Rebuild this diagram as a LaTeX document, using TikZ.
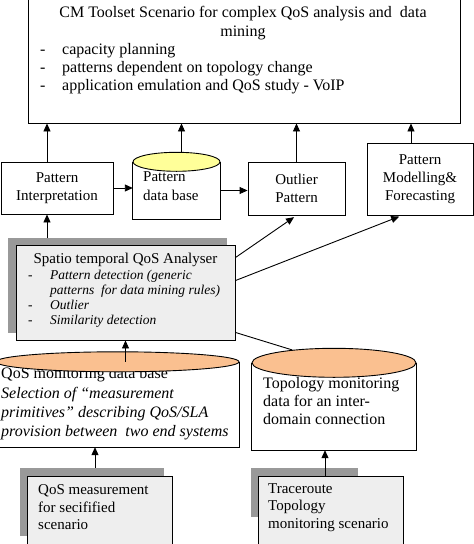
\documentclass[tikz,border=0pt]{standalone}
\usepackage{fontspec}
\setmainfont{Liberation Serif}
\usetikzlibrary{arrows.meta,positioning,shapes.geometric}
\definecolor{cmYellow}{HTML}{FFFF99}
\definecolor{cmPeach}{HTML}{FAC090}
\definecolor{cmPanel}{HTML}{EEEEEE}
\definecolor{cmPlate}{HTML}{999999}
\tikzset{
  unit/.style={draw, line width=0.9pt, inner sep=0pt, align=center},
  body/.style={inner sep=0pt},
  lid/.style={draw, ellipse, line width=0.9pt, inner sep=0pt},
  backplate/.style={fill=cmPlate},
  panel/.style={draw, fill=cmPanel, line width=0.9pt, inner sep=0pt},
  arr/.style={line width=0.9pt, -{Triangle[length=8pt,width=7pt]}},
  txt/.style={inner sep=0pt, align=left, anchor=west},
}

\begin{document}
\begin{tikzpicture}[x=1pt,y=-1pt,font=\fontsize{15}{18}\selectfont]
  \useasboundingbox (0,0) rectangle (474,544);

  % scenario on top
  \node[unit, minimum width=432pt, minimum height=128pt] (scen) at (244,59) {};
  \node[inner sep=0pt, align=center, font=\fontsize{16}{19}\selectfont] (scentitle) at (243,23.5)
    {CM Toolset Scenario for complex QoS analysis and~ data\\mining};
  \node[txt, font=\fontsize{16}{18}\selectfont] (scenitems) at (40,69) {\makebox[22pt][l]{-}capacity planning\\
    \makebox[22pt][l]{-}patterns dependent on topology change\\
    \makebox[22pt][l]{-}application emulation and QoS study - VoIP};

  % middle row
  \node[unit, minimum width=112pt, minimum height=52pt] (pi) at (57,188) {Pattern\\Interpretation};
  \node[body, minimum width=87pt, minimum height=57pt] (pdb) at (176.5,190.5) {};
  \draw[line width=0.9pt, fill=white] (pdb.north west) -- (pdb.south west) -- (pdb.south east) -- (pdb.north east);
  \node[lid, fill=cmYellow, minimum width=87pt, minimum height=19pt] (pdbtop) at (pdb.north) {};
  \node[txt, font=\fontsize{15}{19}\selectfont] (pdbtext) at (143,186.5) {Pattern\\data base};
  \node[unit, minimum width=97pt, minimum height=53pt] (op) at (296.5,188.5) {Outlier\\Pattern};
  \node[unit, minimum width=106pt, minimum height=72pt] (pmf) at (420,179) {Pattern\\Modelling\&\\Forecasting};

  \draw[arr] ([xshift=-10pt]pi.north) -- ([xshift=-10pt]pi.north |- scen.south);
  \draw[arr] ([xshift=5pt]pdbtop.north) -- ([xshift=5pt]pdbtop.north |- scen.south);
  \draw[arr] (op.north) -- (op.north |- scen.south);
  \draw[arr] ([xshift=-9pt]pmf.north) -- ([xshift=-9pt]pmf.north |- scen.south);
  \draw[arr] (pi.east) -- (pi.east -| pdb.west);
  \draw[arr] (pdb.east) -- (pdb.east -| op.west);

  % analyser
  \fill[backplate] (8,238) rectangle (227,333);
  \node[panel, minimum width=219pt, minimum height=95pt] (ana) at (125.5,292.5) {};
  \node[inner sep=0pt] (anatitle) at (125.5,260) {Spatio temporal QoS Analyser};
  \node[txt, font=\itshape\fontsize{13.5}{15}\selectfont] (anaitems) at (28,299) {%
    \makebox[22pt][l]{\upshape-}Pattern detection (generic\\
    \hspace*{22pt}patterns~ for data mining rules)\\
    \makebox[22pt][l]{\upshape-}Outlier\\
    \makebox[22pt][l]{\upshape-}Similarity detection};
  \coordinate (anatop) at (47,238);
  \draw[arr] (anatop) -- (anatop |- pi.south);

  % monitoring data bases
  \node[body, minimum width=243pt, minimum height=85pt] (qdb) at (117.5,404.5) {};
  \draw[line width=0.9pt, fill=white] (qdb.north west) -- (qdb.south west) -- (qdb.south east) -- (qdb.north east);
  \node[txt, font=\fontsize{16}{19.3}\selectfont] (qdbtext) at (1,404) {QoS monitoring data base\\
    \textit{Selection of “measurement}\\
    \textit{primitives” describing QoS/SLA}\\
    \textit{provision between~ two end systems}};
  \node[lid, fill=cmPeach, minimum width=243pt, minimum height=20pt] (qdbtop) at (qdb.north) {};
  \node[body, minimum width=164pt, minimum height=87pt] (topo) at (334,406.5) {};
  \draw[line width=0.9pt, fill=white] (topo.north west) -- (topo.south west) -- (topo.south east) -- (topo.north east);
  \node[txt, font=\fontsize{16}{18}\selectfont] (topotext) at (263,401) {Topology monitoring\\data for an inter-\\domain connection};
  \node[lid, fill=cmPeach, minimum width=164pt, minimum height=29pt] (topotop) at (topo.north) {};

  \draw[arr] (ana.south |- qdbtop.center) -- (ana.south);
  \draw[arr, shorten >=3pt] ([yshift=-13pt]ana.north east) -- (op.south);
  \draw[arr, shorten >=3pt] ([yshift=-36pt]ana.north east) -- ([xshift=-18pt]pmf.south);
  \draw[line width=0.9pt] ([yshift=8pt]ana.south east) -- (topotop);

  % measurement scenarios
  \fill[backplate] (20,468) rectangle (164,536);
  \node[panel, minimum width=145pt, minimum height=69pt] (qm) at (99.5,510.5) {};
  \node[txt, font=\fontsize{15}{17.5}\selectfont] (qmtext) at (38,507.5) {QoS measurement\\for secifified\\scenario};
  \fill[backplate] (251,468) rectangle (358,517);
  \node[panel, minimum width=145pt, minimum height=69pt] (tr) at (330.5,510.5) {};
  \node[txt, font=\fontsize{15}{17.5}\selectfont] (trtext) at (268,507.5) {Traceroute\\Topology\\monitoring scenario};
  \coordinate (qmtop) at (95,468);
  \draw[arr] (qmtop) -- (qmtop |- qdb.south);
  \draw[arr] ([xshift=-5.5pt]tr.north) -- ([xshift=-5.5pt]tr.north |- topo.south);
\end{tikzpicture}
\end{document}
